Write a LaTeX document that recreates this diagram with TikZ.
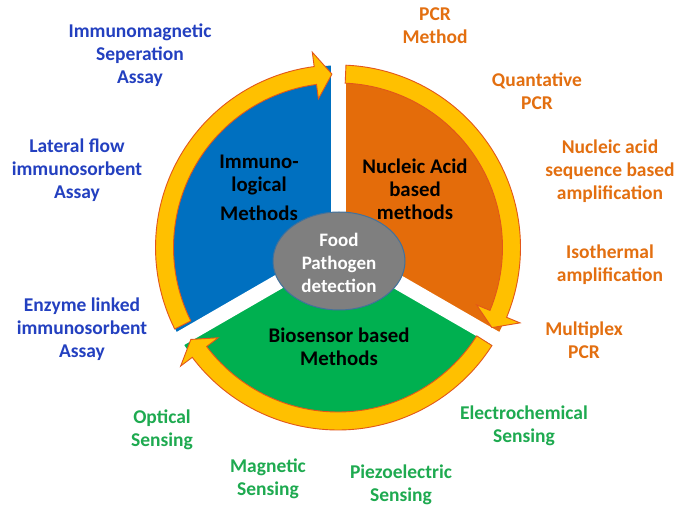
\documentclass[tikz,border=0pt]{standalone}
\usepackage{fontspec}
\setmainfont{Carlito}
\usetikzlibrary{shapes.geometric}
\definecolor{secblue}{HTML}{0070C0}
\definecolor{secorange}{HTML}{E46C0A}
\definecolor{secgreen}{HTML}{00B050}
\definecolor{arrowfill}{HTML}{FFC000}
\definecolor{arrowline}{HTML}{E2561A}
\definecolor{txtblue}{HTML}{2340C0}
\definecolor{txtorange}{HTML}{E36F10}
\definecolor{txtgreen}{HTML}{1EAA50}
\definecolor{hubfill}{HTML}{7F7F7F}
\definecolor{hubline}{HTML}{41719C}
\begin{document}
\begin{tikzpicture}[x=1pt,y=1pt,
  arrowband/.style={fill=arrowfill,draw=arrowline,line width=0.9pt,line join=miter},
  outerlbl/.style={font=\fontsize{19.5}{23}\selectfont\bfseries,align=center,inner sep=0pt},
  seclbl/.style={font=\fontsize{20.8}{23}\selectfont\bfseries,align=center,inner sep=0pt,text=black},
  gapline/.style={white,line width=15pt}]
\useasboundingbox (0,0) rectangle (685,517);
\fill[white] (0,0) rectangle (685,517);
\begin{scope}[shift={(338,269.5)}]
  \fill[secblue] (0,0) -- (90:182pt) arc[start angle=90,end angle=210,radius=182pt] -- cycle;
  \fill[secorange] (0,0) -- (-30:182pt) arc[start angle=-30,end angle=90,radius=182pt] -- cycle;
  \fill[secgreen] (0,0) -- (210:182pt) arc[start angle=210,end angle=330,radius=182pt] -- cycle;
  \foreach \a in {90,210,330} \draw[gapline] (0,0) -- (\a:200pt);
  % blue arrow
  \draw[arrowband] (206.5:182.5pt) arc[start angle=206.5,end angle=97.5,radius=182.5pt]
    -- (97.5:197pt) -- (92:173.5pt) -- (97.5:150pt) -- (97.5:164.5pt)
    arc[start angle=97.5,end angle=206.5,radius=164.5pt] -- cycle;
  % orange arrow
  \draw[arrowband] (87.5:182.5pt) arc[start angle=87.5,end angle=-22.5,radius=182.5pt]
    -- (-22.5:197pt) -- (-27.5:173.5pt) -- (-22.5:150pt) -- (-22.5:164.5pt)
    arc[start angle=-22.5,end angle=87.5,radius=164.5pt] -- cycle;
  % green arrow
  \draw[arrowband] (-32.5:182.5pt) arc[start angle=-32.5,end angle=-143,radius=182.5pt]
    -- (-143:197pt) -- (-148:173.5pt) -- (-143:150pt) -- (-143:164.5pt)
    arc[start angle=-143,end angle=-32.5,radius=164.5pt] -- cycle;
\end{scope}
\node[ellipse,fill=hubfill,draw=hubline,line width=1pt,minimum width=132pt,minimum height=98pt,inner sep=0pt] (hub) at (339,256) {};
\node[font=\fontsize{19}{23}\selectfont\bfseries,text=white,align=center,inner sep=0pt] (hubtext) at (339,254) {Food\\Pathogen\\detection};
% sector labels
\node[seclbl] (immuno) at (259,329) {Immuno-\\logical\\[6pt]Methods};
\node[seclbl] (nucleic) at (415,328) {Nucleic Acid\\based\\methods};
\node[seclbl] (biosensor) at (339,170) {Biosensor based\\Methods};
% blue labels
\node[outerlbl,text=txtblue] (ims) at (140,461.7) {Immunomagnetic\\Seperation\\Assay};
\node[outerlbl,text=txtblue] (lfa) at (77,346.5) {Lateral flow\\immunosorbent\\Assay};
\node[outerlbl,text=txtblue] (elisa) at (82,188) {Enzyme linked\\immunosorbent\\Assay};
% orange labels
\node[outerlbl,text=txtorange] (pcr) at (435,491) {PCR\\Method};
\node[outerlbl,text=txtorange] (qpcr) at (537,425.5) {Quantative\\PCR};
\node[outerlbl,text=txtorange] (nasba) at (610,346) {Nucleic acid\\sequence based\\amplification};
\node[outerlbl,text=txtorange] (iso) at (610,252) {Isothermal\\amplification};
\node[outerlbl,text=txtorange] (mpcr) at (584,176.5) {Multiplex\\PCR};
% green labels
\node[outerlbl,text=txtgreen] (opt) at (162,87) {Optical\\Sensing};
\node[outerlbl,text=txtgreen] (mag) at (268,38) {Magnetic\\Sensing};
\node[outerlbl,text=txtgreen] (piezo) at (401,32.5) {Piezoelectric\\Sensing};
\node[outerlbl,text=txtgreen] (electro) at (524,91.5) {Electrochemical\\Sensing};
\end{tikzpicture}
\end{document}
